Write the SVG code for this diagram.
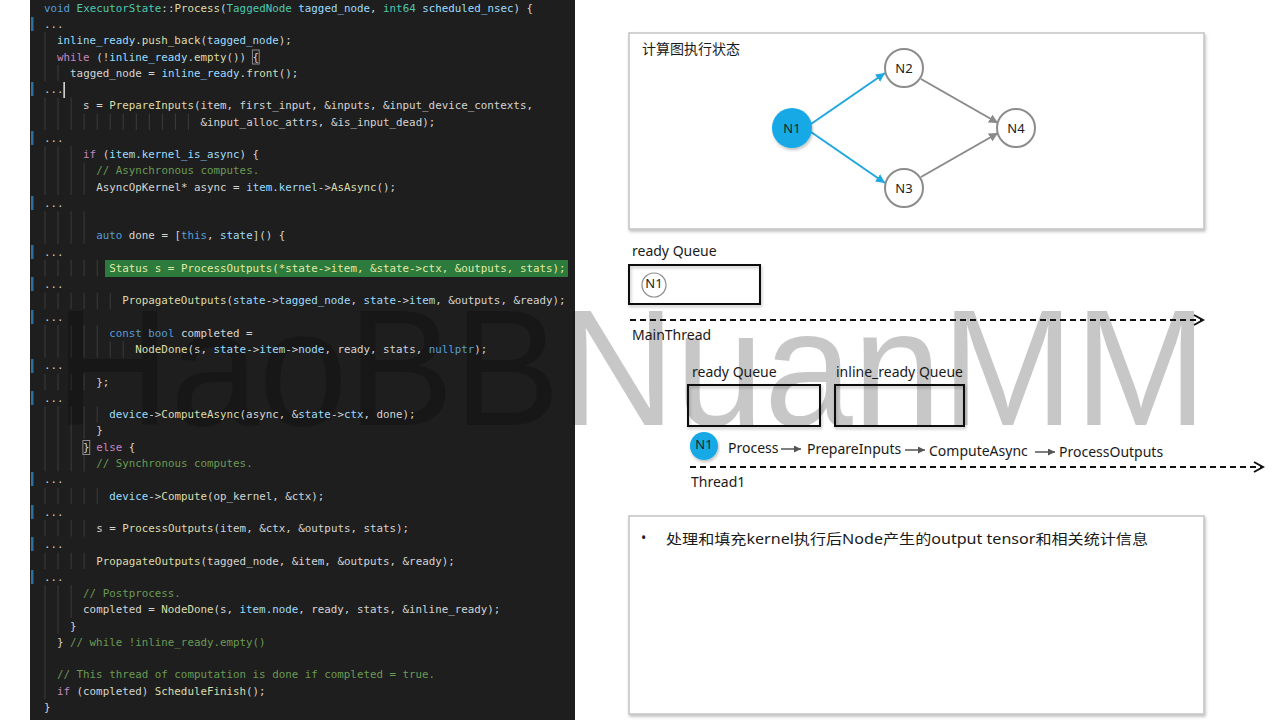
<svg xmlns="http://www.w3.org/2000/svg" width="1280" height="720" viewBox="0 0 1280 720">
<defs>
<style>
.code text{font-family:"DejaVu Sans Mono","Liberation Mono",monospace;font-size:10.83px;fill:#d4d4d4}
.code .k{fill:#569cd6}.code .c{fill:#c586c0}.code .t{fill:#4ec9b0}.code .f{fill:#dcdcaa}.code .v{fill:#9cdcfe}.code .m{fill:#6a9955}.code .d{fill:#c8c8c8}.code .h{fill:#e3eaa8}
.lbl{font-family:"Noto Sans","Noto Sans CJK SC",sans-serif;font-size:14px;fill:#1a1a1a}
.nl{font-family:"Noto Sans",sans-serif;font-size:13px;fill:#222;text-anchor:middle}
.panel{fill:#fff;stroke:#c3c3c3;stroke-width:1.5}
.q{fill:none;stroke:#111;stroke-width:2}
.node{fill:#fff;stroke:#8c8c8c;stroke-width:2}
.blue{fill:#14a9e6}
.eb{stroke:#1ea7e1;stroke-width:2;fill:none}
.eg{stroke:#8a8a8a;stroke-width:2;fill:none}
.dash{stroke:#111;stroke-width:2;stroke-dasharray:6 4;fill:none}
.step{stroke:#555;stroke-width:1.5;fill:none}
</style>
<filter id="sh" x="-5%" y="-5%" width="110%" height="120%"><feDropShadow dx="1" dy="2" stdDeviation="1.5" flood-color="#000" flood-opacity="0.25"/></filter>
<marker id="ab" markerUnits="userSpaceOnUse" markerWidth="9" markerHeight="9" refX="9" refY="4.5" orient="auto"><path d="M0,0 L9,4.5 L0,9 z" fill="#1ea7e1"/></marker>
<marker id="ag" markerUnits="userSpaceOnUse" markerWidth="9" markerHeight="9" refX="9" refY="4.5" orient="auto"><path d="M0,0 L9,4.5 L0,9 z" fill="#8a8a8a"/></marker>
<marker id="as" markerUnits="userSpaceOnUse" markerWidth="7" markerHeight="7" refX="7" refY="3.5" orient="auto"><path d="M0,0 L7,3.5 L0,7 z" fill="#555"/></marker>
<marker id="chev" markerUnits="userSpaceOnUse" markerWidth="12" markerHeight="12" refX="10" refY="6" orient="auto"><path d="M1,1 L10,6 L1,11" fill="none" stroke="#111" stroke-width="2"/></marker>
</defs>
<rect width="1280" height="720" fill="#fff"/>
<rect x="30" y="0" width="545" height="720" fill="#1e1e1e"/>
<g id="code-deco">
<rect x="105" y="260" width="463" height="17" fill="#2c7a3c"/>
<g fill="#2a6f9e">
<rect x="31" y="17" width="2.5" height="14"/><rect x="31" y="82" width="2.5" height="14"/><rect x="31" y="131" width="2.5" height="14"/><rect x="31" y="196" width="2.5" height="14"/><rect x="31" y="245" width="2.5" height="14"/><rect x="31" y="277" width="2.5" height="14"/><rect x="31" y="310" width="2.5" height="14"/><rect x="31" y="359" width="2.5" height="14"/><rect x="31" y="391" width="2.5" height="14"/><rect x="31" y="472" width="2.5" height="14"/><rect x="31" y="505" width="2.5" height="14"/><rect x="31" y="537" width="2.5" height="14"/><rect x="31" y="570" width="2.5" height="14"/>
</g>
<path stroke="#3c3c3c" stroke-width="1" fill="none" d="M45,32.4v48.8M58,64.9v16.3
M45,97.4v32.6M58,97.4v32.6M71.1,97.4v32.6M84.1,113.7v16.3M97.2,113.7v16.3M110.2,113.7v16.3M123.2,113.7v16.3M136.3,113.7v16.3M149.3,113.7v16.3M162.4,113.7v16.3M175.4,113.7v16.3M188.4,113.7v16.3
M45,146.2v48.8M58,146.2v48.8M71.1,146.2v48.8M84.1,162.5v32.5
M45,211.3v32.5M58,211.3v32.5M71.1,211.3v32.5M84.1,211.3v32.5
M45,260v16.3M58,260v16.3M71.1,260v16.3M84.1,260v16.3M97.2,260v16.3
M45,292.6v16.3M58,292.6v16.3M71.1,292.6v16.3M84.1,292.6v16.3M97.2,292.6v16.3M110.2,292.6v16.3
M45,325.1v32.5M58,325.1v32.5M71.1,325.1v32.5M84.1,325.1v32.5M97.2,325.1v32.5M110.2,341.3v16.3M123.2,341.3v16.3
M45,373.9v16.3M58,373.9v16.3M71.1,373.9v16.3M84.1,373.9v16.3
M45,406.4v65M58,406.4v65M71.1,406.4v65M84.1,406.4v32.5M84.1,455.2v16.3M97.2,406.4v16.3
M45,487.7v16.3M58,487.7v16.3M71.1,487.7v16.3M84.1,487.7v16.3M97.2,487.7v16.3
M45,520.2v16.3M58,520.2v16.3M71.1,520.2v16.3M84.1,520.2v16.3
M45,552.7v16.3M58,552.7v16.3M71.1,552.7v16.3M84.1,552.7v16.3
M45,585.2v113.9M58,585.2v48.8M71.1,585.2v32.6"/>
<rect x="252.4" y="50" width="6.8" height="14" fill="none" stroke="#8a8a8a" stroke-width="1"/>
<rect x="82.9" y="440.5" width="6.8" height="14" fill="none" stroke="#8a8a8a" stroke-width="1"/>
<rect x="63.4" y="82" width="1.5" height="16" fill="#e0e0e0"/>
</g>
<g id="watermark"><text x="55" y="425" font-family="Liberation Sans, Arial, sans-serif" font-size="165" textLength="1152" lengthAdjust="spacingAndGlyphs" fill="#000" fill-opacity="0.22">HaoBBNuanMM</text></g>
<g id="code" class="code" xml:space="preserve">
<text x="44" y="11.7"><tspan class="k">void</tspan> <tspan class="t">ExecutorState</tspan>::<tspan class="f">Process</tspan>(<tspan class="t">TaggedNode</tspan> <tspan class="v">tagged_node</tspan>, <tspan class="t">int64</tspan> <tspan class="v">scheduled_nsec</tspan>) {</text>
<text x="44" y="27.9" class="d">...</text>
<text x="57" y="44.2"><tspan class="v">inline_ready</tspan>.<tspan class="f">push_back</tspan>(<tspan class="v">tagged_node</tspan>);</text>
<text x="57" y="60.5"><tspan class="c">while</tspan> (!<tspan class="v">inline_ready</tspan>.<tspan class="f">empty</tspan>()) {</text>
<text x="70.1" y="76.7">tagged_node = <tspan class="v">inline_ready</tspan>.<tspan class="f">front</tspan>();</text>
<text x="44" y="93" class="d">...</text>
<text x="83.1" y="109.2">s = <tspan class="f">PrepareInputs</tspan>(item, first_input, &amp;inputs, &amp;input_device_contexts,</text>
<text x="200.5" y="125.5">&amp;input_alloc_attrs, &amp;is_input_dead);</text>
<text x="44" y="141.8" class="d">...</text>
<text x="83.1" y="158"><tspan class="c">if</tspan> (<tspan class="v">item.kernel_is_async</tspan>) {</text>
<text x="96.2" y="174.3" class="m">// Asynchronous computes.</text>
<text x="96.2" y="190.5">AsyncOpKernel* async = <tspan class="v">item.kernel</tspan>-&gt;<tspan class="f">AsAsync</tspan>();</text>
<text x="44" y="206.8" class="d">...</text>
<text x="96.2" y="239.3"><tspan class="k">auto</tspan> done = [<tspan class="k">this</tspan>, <tspan class="v">state</tspan>]() {</text>
<text x="44" y="255.6" class="d">...</text>
<text x="109.2" y="271.8" class="h">Status s = ProcessOutputs(*state-&gt;item, &amp;state-&gt;ctx, &amp;outputs, stats);</text>
<text x="44" y="288.1" class="d">...</text>
<text x="122.2" y="304.4"><tspan class="f">PropagateOutputs</tspan>(<tspan class="v">state</tspan>-&gt;<tspan class="v">tagged_node</tspan>, <tspan class="v">state</tspan>-&gt;<tspan class="v">item</tspan>, &amp;outputs, &amp;ready);</text>
<text x="44" y="320.6" class="d">...</text>
<text x="109.2" y="336.9"><tspan class="k">const</tspan> <tspan class="k">bool</tspan> completed =</text>
<text x="135.3" y="353.1"><tspan class="f">NodeDone</tspan>(s, <tspan class="v">state</tspan>-&gt;<tspan class="v">item</tspan>-&gt;<tspan class="v">node</tspan>, ready, stats, <tspan class="k">nullptr</tspan>);</text>
<text x="44" y="369.4" class="d">...</text>
<text x="96.2" y="385.7">};</text>
<text x="44" y="401.9" class="d">...</text>
<text x="109.2" y="418.2"><tspan class="v">device</tspan>-&gt;<tspan class="f">ComputeAsync</tspan>(async, &amp;<tspan class="v">state</tspan>-&gt;<tspan class="v">ctx</tspan>, done);</text>
<text x="96.2" y="434.4">}</text>
<text x="83.1" y="450.7">} <tspan class="c">else</tspan> {</text>
<text x="96.2" y="467" class="m">// Synchronous computes.</text>
<text x="44" y="483.2" class="d">...</text>
<text x="109.2" y="499.5"><tspan class="v">device</tspan>-&gt;<tspan class="f">Compute</tspan>(op_kernel, &amp;ctx);</text>
<text x="44" y="515.7" class="d">...</text>
<text x="96.2" y="532">s = <tspan class="f">ProcessOutputs</tspan>(item, &amp;ctx, &amp;outputs, stats);</text>
<text x="44" y="548.3" class="d">...</text>
<text x="96.2" y="564.5"><tspan class="f">PropagateOutputs</tspan>(tagged_node, &amp;item, &amp;outputs, &amp;ready);</text>
<text x="44" y="580.8" class="d">...</text>
<text x="83.1" y="597" class="m">// Postprocess.</text>
<text x="83.1" y="613.3">completed = <tspan class="f">NodeDone</tspan>(s, <tspan class="v">item.node</tspan>, ready, stats, &amp;inline_ready);</text>
<text x="70.1" y="629.6">}</text>
<text x="57" y="645.8">}  <tspan class="m">// while !inline_ready.empty()</tspan></text>
<text x="57" y="678.3" class="m">// This thread of computation is done if completed = true.</text>
<text x="57" y="694.6"><tspan class="c">if</tspan> (completed) <tspan class="f">ScheduleFinish</tspan>();</text>
<text x="44" y="710.9">}</text>
</g>
<g id="graph-panel">
<rect class="panel" x="629" y="33" width="575" height="196" filter="url(#sh)"/>
<text class="lbl" x="642" y="54" font-size="14">计算图执行状态</text>
</g>
<g id="connectors">
<line class="eb" x1="811" y1="124" x2="885" y2="73" marker-end="url(#ab)"/>
<line class="eb" x1="811" y1="132" x2="885" y2="183" marker-end="url(#ab)"/>
<line class="eg" x1="921" y1="79" x2="998" y2="123" marker-end="url(#ag)"/>
<line class="eg" x1="921" y1="177" x2="998" y2="133" marker-end="url(#ag)"/>
<line class="dash" x1="630" y1="320" x2="1203" y2="320" marker-end="url(#chev)"/>
<line class="dash" x1="690" y1="467" x2="1263" y2="467" marker-end="url(#chev)"/>
<line class="step" x1="781" y1="449" x2="801" y2="449" marker-end="url(#as)"/>
<line class="step" x1="905" y1="450" x2="925" y2="450" marker-end="url(#as)"/>
<line class="step" x1="1035" y1="452" x2="1055" y2="452" marker-end="url(#as)"/>
</g>
<g id="node-n1"><circle class="blue" cx="792" cy="128" r="20" filter="url(#sh)"/><text class="nl" x="792" y="133">N1</text></g>
<g id="node-n2"><circle class="node" cx="904" cy="68" r="19"/><text class="nl" x="904" y="73">N2</text></g>
<g id="node-n3"><circle class="node" cx="904" cy="188" r="19"/><text class="nl" x="904" y="193">N3</text></g>
<g id="node-n4"><circle class="node" cx="1016" cy="128" r="19"/><text class="nl" x="1016" y="133">N4</text></g>
<g id="main-ready-queue">
<text class="lbl" x="632" y="256">ready Queue</text>
<rect class="q" x="629" y="265" width="131" height="39" filter="url(#sh)"/>
<circle cx="654" cy="285" r="12" fill="#fff" stroke="#8c8c8c" stroke-width="1.2"/>
<text class="nl" x="654" y="288" font-size="8">N1</text>
</g>
<g id="main-thread"><text class="lbl" x="632" y="340">MainThread</text></g>
<g id="thread1-ready-queue">
<text class="lbl" x="692" y="377">ready Queue</text>
<rect class="q" x="688" y="385" width="132" height="41" filter="url(#sh)"/>
</g>
<g id="thread1-inline-queue">
<text class="lbl" x="836" y="377">inline_ready Queue</text>
<rect class="q" x="835" y="385" width="129" height="41" filter="url(#sh)"/>
</g>
<g id="thread1-n1"><circle class="blue" cx="704" cy="446" r="14" filter="url(#sh)"/><text class="nl" x="704" y="449" font-size="8">N1</text></g>
<g id="steps">
<text class="lbl" x="728" y="453">Process</text>
<text class="lbl" x="807" y="454">PrepareInputs</text>
<text class="lbl" x="929" y="456">ComputeAsync</text>
<text class="lbl" x="1059" y="457">ProcessOutputs</text>
</g>
<g id="thread1"><text class="lbl" x="691" y="487">Thread1</text></g>
<g id="note-panel">
<rect class="panel" x="629" y="516" width="575" height="198" filter="url(#sh)"/>
<text class="lbl" x="641" y="543" font-size="15">•</text>
<text class="lbl" x="666" y="544" font-size="17" textLength="482" lengthAdjust="spacingAndGlyphs">处理和填充kernel执行后Node产生的output tensor和相关统计信息</text>
</g>
</svg>
